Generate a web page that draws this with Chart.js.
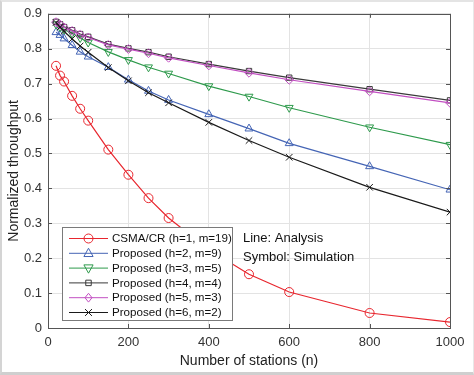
<!DOCTYPE html>
<html>
<head>
<meta charset="utf-8">
<script src="https://cdn.jsdelivr.net/npm/chart.js@4.4.1/dist/chart.umd.min.js"></script>
<style>
  html, body { margin: 0; padding: 0; background: #fff; }
  #wrap { position: relative; width: 474px; height: 375px; }
  #frame { position: absolute; left: 0; top: 0; width: 474px; height: 375px; box-sizing: border-box;
           border-left: 2px solid #d4d4d4; border-top: 2px solid #e4e4e4; border-bottom: 3px solid #cfcfcf; border-right: 1px solid #e8e8e8; pointer-events: none; }
</style>
</head>
<body>
<div id="wrap">
<canvas id="c" width="474" height="375"></canvas>
<div id="frame"></div>
</div>
<script>
// ---- data ----
const stations = [20, 30, 40, 60, 80, 100, 150, 200, 250, 300, 400, 500, 600, 800, 1000];
const csmaCR   = [0.751, 0.723, 0.706, 0.665, 0.628, 0.594, 0.511, 0.439, 0.372, 0.315, 0.225, 0.154, 0.103, 0.043, 0.017];
const propH2   = [0.847, 0.839, 0.829, 0.810, 0.791, 0.777, 0.747, 0.711, 0.679, 0.653, 0.612, 0.571, 0.529, 0.463, 0.396];
const propH3   = [0.870, 0.862, 0.855, 0.844, 0.831, 0.818, 0.791, 0.768, 0.747, 0.729, 0.693, 0.663, 0.631, 0.575, 0.525];
const propH4   = [0.877, 0.870, 0.862, 0.853, 0.842, 0.834, 0.813, 0.801, 0.790, 0.777, 0.756, 0.736, 0.717, 0.684, 0.652];
const propH5   = [0.876, 0.869, 0.861, 0.851, 0.840, 0.832, 0.811, 0.799, 0.787, 0.774, 0.752, 0.731, 0.711, 0.678, 0.645];
const propH6   = [0.875, 0.862, 0.850, 0.828, 0.808, 0.790, 0.746, 0.708, 0.674, 0.645, 0.589, 0.537, 0.489, 0.403, 0.332];
const seriesNames = ['CSMA/CR (h=1, m=19)', 'Proposed (h=2, m=9)', 'Proposed (h=3, m=5)',
                     'Proposed (h=4, m=4)', 'Proposed (h=5, m=3)', 'Proposed (h=6, m=2)'];
const xTickLabels = ['0', '200', '400', '600', '800', '1000'];
const yTickLabels = ['0', '0.1', '0.2', '0.3', '0.4', '0.5', '0.6', '0.7', '0.8', '0.9'];
const annotationLines = ['Line: Analysis', 'Symbol: Simulation'];

// ---- styles ----
const FONT = '"Liberation Sans", Arial, Helvetica, sans-serif';
const colors = ['#e8262e', '#4565b5', '#2e9a4c', '#3a3a3a', '#c24fc2', '#1a1a1a'];
const pStyles = ['circle', 'triangle', 'triangle', 'rect', 'rectRot', 'crossRot'];
const pRot = [0, 0, 180, 0, 0, 0];
const pRad = [4.5, 4.6, 4.6, 3.8, 4.4, 4.6];
const allSeries = [csmaCR, propH2, propH3, propH4, propH5, propH6];

const datasets = allSeries.map((vals, i) => ({
  label: seriesNames[i],
  data: stations.map((s, k) => ({ x: s, y: vals[k] })),
  borderColor: colors[i],
  backgroundColor: 'rgba(0,0,0,0)',
  pointBorderColor: colors[i],
  pointBackgroundColor: 'rgba(0,0,0,0)',
  pointStyle: pStyles[i],
  pointRotation: pRot[i],
  pointRadius: pRad[i],
  pointBorderWidth: 1,
  borderWidth: 1.2,
  tension: 0,
  order: 10 - i
}));

function drawMarker(ctx, style, x, y, r, rot, color) {
  ctx.save();
  ctx.strokeStyle = color; ctx.lineWidth = 1;
  ctx.translate(x, y); ctx.rotate(rot * Math.PI / 180);
  ctx.beginPath();
  if (style === 'circle') { ctx.arc(0, 0, r, 0, Math.PI * 2); }
  else if (style === 'triangle') {
    ctx.moveTo(0, -r * 1.1); ctx.lineTo(r * 1.0, r * 0.7); ctx.lineTo(-r * 1.0, r * 0.7); ctx.closePath();
  }
  else if (style === 'rect') { const s = r * 0.72; ctx.rect(-s, -s, 2 * s, 2 * s); }
  else if (style === 'rectRot') { ctx.moveTo(0, -r); ctx.lineTo(r * 0.8, 0); ctx.lineTo(0, r); ctx.lineTo(-r * 0.8, 0); ctx.closePath(); }
  else if (style === 'crossRot') { const s = r * 0.75; ctx.moveTo(-s, -s); ctx.lineTo(s, s); ctx.moveTo(s, -s); ctx.lineTo(-s, s); }
  ctx.stroke();
  ctx.restore();
}

const boxPlugin = {
  id: 'boxPlugin',
  afterDatasetsDraw(chart) {
    const ctx = chart.ctx, a = chart.chartArea;
    const xs = chart.scales.x, ys = chart.scales.y;
    ctx.save();
    // frame
    ctx.strokeStyle = '#555'; ctx.lineWidth = 1;
    ctx.strokeRect(Math.round(a.left) + 0.5, Math.round(a.top) + 0.5, Math.round(a.right - a.left), Math.round(a.bottom - a.top));
    // inward ticks on all sides
    ctx.beginPath();
    xs.ticks.forEach(t => {
      const px = Math.round(xs.getPixelForValue(t.value)) + 0.5;
      ctx.moveTo(px, a.bottom); ctx.lineTo(px, a.bottom - 4);
      ctx.moveTo(px, a.top); ctx.lineTo(px, a.top + 4);
    });
    ys.ticks.forEach(t => {
      const py = Math.round(ys.getPixelForValue(t.value)) + 0.5;
      ctx.moveTo(a.left, py); ctx.lineTo(a.left + 4, py);
      ctx.moveTo(a.right, py); ctx.lineTo(a.right - 4, py);
    });
    ctx.stroke();

    // legend box
    const L = 62.5, T = 227.5, W = 170, H = 93;
    ctx.fillStyle = '#fff';
    ctx.fillRect(L, T, W, H);
    ctx.strokeStyle = '#7a7a7a'; ctx.lineWidth = 1;
    ctx.strokeRect(L, T, W, H);
    ctx.font = '11.6px ' + FONT;
    ctx.textBaseline = 'middle'; ctx.textAlign = 'left';
    for (let i = 0; i < seriesNames.length; i++) {
      const y = 238.5 + i * 14.8;
      ctx.strokeStyle = colors[i]; ctx.lineWidth = 1;
      ctx.beginPath(); ctx.moveTo(69, y); ctx.lineTo(108, y); ctx.stroke();
      drawMarker(ctx, pStyles[i], 88.5, y, pRad[i], pRot[i], colors[i]);
      ctx.fillStyle = '#111';
      ctx.fillText(seriesNames[i], 112, y + 0.5);
    }
    // annotation text
    ctx.font = '13px ' + FONT;
    ctx.fillStyle = '#111';
    ctx.fillText(annotationLines[0], 243, 238);
    ctx.fillText(annotationLines[1], 243, 257);
    ctx.restore();
  }
};

new Chart(document.getElementById('c'), {
  type: 'line',
  data: { datasets },
  options: {
    responsive: false,
    animation: false,
    layout: { padding: { left: 6, top: 13, right: 24, bottom: 5 } },
    plugins: { legend: { display: false }, tooltip: { enabled: false } },
    scales: {
      x: {
        type: 'linear', min: 0, max: 1000,
        ticks: { stepSize: 200, color: '#333', font: { family: FONT, size: 13 }, padding: 7, maxRotation: 0,
                 callback: (v) => xTickLabels[Math.round(v / 200)] },
        grid: { color: '#e3e3e3', drawTicks: false },
        border: { display: false },
        title: { display: true, text: 'Number of stations (n)', color: '#222', font: { family: FONT, size: 14 }, padding: { top: 2, bottom: 0 } },
        afterFit: (s) => { s.height = 42; }
      },
      y: {
        type: 'linear', min: 0, max: 0.9,
        ticks: { stepSize: 0.1, color: '#333', font: { family: FONT, size: 13 }, padding: 6,
                 callback: (v) => yTickLabels[Math.round(v * 10)] },
        grid: { color: '#e3e3e3', drawTicks: false },
        border: { display: false },
        title: { display: true, text: 'Normalized throughput', color: '#222', font: { family: FONT, size: 14 }, padding: { top: 0, bottom: 4 } },
        afterFit: (s) => { s.width = 42; }
      }
    }
  },
  plugins: [boxPlugin]
});
</script>
</body>
</html>
